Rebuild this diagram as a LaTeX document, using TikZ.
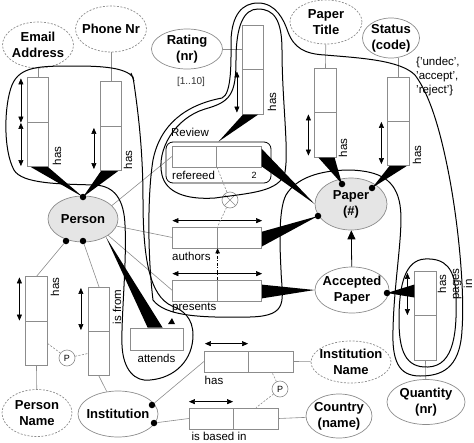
\documentclass[tikz,border=0pt]{standalone}
\usepackage{fontspec}
\setmainfont{Liberation Sans}
\usetikzlibrary{shapes.geometric,arrows.meta,calc}
\definecolor{lg}{gray}{0.55}
\definecolor{efill}{gray}{0.9}
\begin{document}
\begin{tikzpicture}[x=1pt,y=-1pt,
  ent/.style={ellipse,draw=lg,line width=0.7pt,inner sep=0pt},
  vent/.style={ent,dashed,dash pattern=on 2pt off 1.5pt},
  etext/.style={inner sep=0pt,align=center,font=\bfseries\fontsize{13}{16}\selectfont},
  lbl/.style={inner sep=0pt,font=\fontsize{11.5}{14}\selectfont},
  vrole/.style={draw=lg,line width=0.7pt,rectangle,inner sep=0pt,minimum width=21.5pt,minimum height=44.5pt},
  hrole/.style={draw=lg,line width=0.7pt,rectangle,inner sep=0pt,minimum width=44.5pt,minimum height=21pt},
  conn/.style={draw=lg,line width=0.6pt},
  dconn/.style={draw=lg,line width=0.6pt,dash pattern=on 2pt off 1.5pt},
  dot/.style={circle,fill=black,inner sep=0pt,minimum size=6.5pt},
  uq/.style={line width=0.6pt,{Triangle[length=6pt,width=5pt]}-{Triangle[length=6pt,width=5pt]}},
  pc/.style={circle,draw=lg,line width=0.6pt,minimum size=16pt,inner sep=0pt,font=\fontsize{9}{10}\selectfont},
  wedge/.style={fill=black},
  path/.style={draw=black,line width=1pt}
]
\useasboundingbox (0,0) rectangle (474,442);

% ---------- entity and value types ----------
\node[vent,minimum width=71pt,minimum height=46pt] (EA) at (38,45) {};
\node[etext] (EAt) at (EA) {Email\\Address};
\node[vent,minimum width=71pt,minimum height=46pt] (PN) at (111,29) {};
\node[etext] (PNt) at (PN) {Phone Nr};
\node[ent,minimum width=71pt,minimum height=40pt] (RT) at (187,49) {};
\node[etext] (RTt) at (RT) {Rating\\(nr)};
\node[lbl,text=black!80] (RTv) at (191,82) {\fontsize{10}{12}\selectfont[1..10]};
\node[vent,minimum width=72pt,minimum height=44pt] (PT) at (326,22) {};
\node[etext] (PTt) at (PT) {Paper\\Title};
\node[ent,minimum width=57pt,minimum height=40pt] (ST) at (391,38) {};
\node[etext] (STt) at (ST) {Status\\(code)};
\node[lbl,align=left,anchor=west] (STv) at (416,77) {\{'undec',\\'accept',\\'reject'\}};
\node[ent,fill=efill,minimum width=70pt,minimum height=46pt] (PE) at (83,219) {};
\node[etext] (PEt) at (PE) {Person};
\node[ent,fill=efill,minimum width=72pt,minimum height=52pt] (PA) at (351,204) {};
\node[etext] (PAt) at (PA) {Paper\\(\#)};
\node[ent,minimum width=74pt,minimum height=46pt] (AP) at (352,290) {};
\node[etext] (APt) at (AP) {Accepted\\Paper};
\node[vent,minimum width=70pt,minimum height=47pt] (PNm) at (37,413) {};
\node[etext] (PNmt) at (PNm) {Person\\Name};
\node[ent,minimum width=80pt,minimum height=46pt] (IN) at (118,414) {};
\node[etext] (INt) at (IN) {Institution};
\node[vent,minimum width=80pt,minimum height=42pt] (INm) at (351,362) {};
\node[etext] (INmt) at (INm) {Institution\\Name};
\node[ent,minimum width=66pt,minimum height=44pt] (CO) at (339,416) {};
\node[etext] (COt) at (CO) {Country\\(name)};
\node[ent,minimum width=78pt,minimum height=45pt] (QU) at (426,402) {};
\node[etext] (QUt) at (QU) {Quantity\\(nr)};

% ---------- role boxes ----------
\node[vrole] (e1) at (38,100) {};      \node[vrole] (e2) at (38,144.5) {};
\node[vrole] (p1) at (111,104) {};     \node[vrole] (p2) at (111,148.5) {};
\node[vrole] (r1) at (253,47.5) {};    \node[vrole] (r2) at (253,92) {};
\node[vrole] (t1) at (325.5,90.5) {};  \node[vrole] (t2) at (325.5,135) {};
\node[vrole] (s1) at (398.5,99.5) {};  \node[vrole] (s2) at (398.5,143.5) {};
\node[vrole] (g1) at (425.5,293.5) {}; \node[vrole] (g2) at (425.5,338) {};
\node[vrole] (n1) at (36.5,299) {};    \node[vrole] (n2) at (36.5,343.5) {};
\node[vrole] (f1) at (99,309.5) {};    \node[vrole] (f2) at (99,353.5) {};
\node[hrole] (v1) at (194.5,156.5) {}; \node[hrole] (v2) at (239,156.5) {};
\node[hrole] (a1) at (195,237.5) {};   \node[hrole] (a2) at (239.5,237.5) {};
\node[hrole] (q1) at (195,290.5) {};   \node[hrole] (q2) at (239.5,290.5) {};
\node[hrole] (h1) at (226.5,361.5) {}; \node[hrole] (h2) at (271,361.5) {};
\node[hrole] (b1) at (211.5,418.5) {}; \node[hrole] (b2) at (256,418.5) {};
\node[hrole,minimum width=53pt,minimum height=22pt] (at) at (156.5,339) {};
\node[draw=black,line width=0.8pt,rounded corners=7pt,minimum width=105pt,minimum height=41pt,inner sep=0pt] (RV) at (218.5,162.5) {};

% ---------- role labels ----------
\node[lbl,rotate=90] (le) at (57,156) {has};
\node[lbl,rotate=90] (lp) at (128,160) {has};
\node[lbl,rotate=90] (lr) at (272,102) {has};
\node[lbl,rotate=90] (lt) at (343,148) {has};
\node[lbl,rotate=90] (ls) at (417,155) {has};
\node[lbl,rotate=90,align=center,font=\fontsize{11.5}{13}\selectfont] (lg) at (455,284) {has\\pages\\in};
\node[lbl,rotate=90] (ln) at (55,287) {has};
\node[lbl,rotate=90] (lf) at (117,307) {is from};
\node[lbl,anchor=west] (lv) at (172,175) {refereed};
\node[inner sep=0pt,font=\fontsize{9}{10}\selectfont] (l2) at (254,175) {2};
\node[lbl] (lRV) at (190,132) {Review};
\node[lbl,anchor=west] (la) at (172,256) {authors};
\node[lbl,anchor=west] (lq) at (172,308) {presents};
\node[lbl] (lat) at (156.5,358) {attends};
\node[lbl] (lh) at (214,380) {has};
\node[lbl] (lb) at (219,436) {is based in};

% ---------- thin connectors ----------
\draw[conn] (EA) -- (e1.north);
\draw[conn] (PN) -- (p1.north);
\draw[conn] (RT.east) -- (r1.west |- RT.east);
\draw[conn] (PT) -- (t1.north);
\draw[conn] (s1.north) -- (s1.north |- ST.south);
\draw[conn] (g2.south) -- (QU);
\draw[conn] (n2.south) -- (PNm);
\draw[conn] (f2.south) -- (IN);
\draw[conn] (PE.25) -- (v1.west);
\draw[conn] (PE.-12) -- (a1.west);
\draw[conn] (PE.-33) -- (q1.west);
\draw[conn] (h2.east) -- (INm);
\draw[conn] (b2.east) -- (CO);

% ---------- mandatory dots ----------
\node[dot] (dPE1) at (83,197) {};
\node[dot] (dPE2) at (66,241) {};
\node[dot] (dPE3) at (83,241) {};
\node[dot] (dPA1) at (342,184) {};
\node[dot] (dPA2) at (372,188) {};
\node[dot] (dPA3) at (318,216) {};
\node[dot] (dAP) at (387,293) {};
\node[dot] (dIN1) at (152,405) {};
\node[dot] (dIN2) at (154,423) {};

\draw[conn] (dPE2) -- (n1.north);
\draw[conn] (dPE3) -- (f1.north);
\draw[conn] (dIN1) -- (h1.west);
\draw[conn] (dIN2) -- (b1.west);

% ---------- wedges ----------
\fill[wedge] ($(e2.south west)+(4,0)$) -- ($(e2.south east)+(-1,0)$) -- (dPE1.center) -- cycle;
\fill[wedge] ($(p2.south west)+(1,0)$) -- ($(p2.south east)+(-4,0)$) -- (dPE1.center) -- cycle;
\fill[wedge] ($(r2.south west)+(1,0)$) -- ($(r2.south east)+(-6,0)$) -- (RV.north) -- cycle;
\fill[wedge] ($(v2.north east)+(0,3)$) -- ($(v2.south east)+(0,-1)$) -- (PA.west) -- cycle;
\fill[wedge] ($(a2.north east)+(0,5)$) -- ($(a2.south east)+(0,-2)$) -- (dPA3.center) -- cycle;
\fill[wedge] ($(q2.north east)+(0,5)$) -- ($(q2.south east)+(0,-3)$) -- (AP.west) -- cycle;
\fill[wedge] ($(t2.south west)+(4,0)$) -- ($(t2.south east)+(-2,0)$) -- (dPA1.center) -- cycle;
\fill[wedge] ($(s2.south west)+(2,0)$) -- ($(s2.south east)+(-3,0)$) -- (dPA2.center) -- cycle;
\fill[wedge] (dAP.center) -- ($(g1.west)+(0,-9)$) -- ($(g1.west)+(0,4)$) -- cycle;
\fill[wedge] (PE.-38) -- ($(at.north west)+(18,0)$) -- ($(at.north west)+(33,0)$) -- cycle;

% ---------- subtype ----------
\draw[line width=0.8pt,-{Triangle[length=9pt,width=8pt]}] (AP) -- (PA);

% ---------- uniqueness constraints ----------
\draw[uq] ($(e1.north west)+(-6,1)$) -- ($(e1.south west)+(-6,0)$);
\draw[uq] ($(e2.north west)+(-6,1)$) -- ($(e2.south west)+(-6,-1)$);
\draw[uq] ($(p2.north west)+(-6,2)$) -- ($(p2.south west)+(-6,-2)$);
\draw[uq] ($(r2.north west)+(-5,2)$) -- ($(r2.south west)+(-5,-2)$);
\draw[uq] ($(t2.north west)+(-6,2)$) -- ($(t2.south west)+(-6,-2)$);
\draw[uq] ($(s2.north west)+(-6,1)$) -- ($(s2.south west)+(-6,-2)$);
\draw[uq] ($(g1.north west)+(-7,2)$) -- ($(g1.south west)+(-7,-1)$);
\draw[uq] ($(n1.north west)+(-6,1)$) -- ($(n1.south west)+(-6,-1)$);
\draw[uq] ($(f1.north west)+(-7,1)$) -- ($(f1.south west)+(-7,-2)$);
\draw[uq] ($(a1.north west)+(0,-6)$) -- ($(a2.north east)+(0,-6)$);
\draw[uq] ($(q1.north west)+(0,-6)$) -- ($(q2.north east)+(0,-6)$);
\draw[uq] ($(h1.north west)+(1,-7)$) -- ($(h1.north east)+(-1,-7)$);
\draw[uq] ($(b1.north west)+(0,-6)$) -- ($(b1.north east)+(-1,-6)$);

% ---------- external / exclusion / subset constraints ----------
\node[pc] (P1) at (67,358) {P};
\draw[dconn] (n2.east) -- (P1);
\draw[dconn] (P1) -- (f2.west);
\node[pc] (P2) at (280,389) {P};
\draw[dconn] (P2) -- ($(h2.south)+(1,0)$);
\draw[dconn] (P2) -- ($(b2.north)+(0,0)$);
\node[pc] (X) at (230,200) {};
\draw[lg,line width=0.6pt] (X.45) -- (X.225) (X.135) -- (X.315);
\draw[dconn] (v1.south east) -- (X);
\draw[dconn] (X) -- (a1.north east);
\draw[line width=0.6pt,dash pattern=on 3pt off 1.5pt on 1pt off 1.5pt,-{Triangle[length=5pt,width=4.5pt]}] (q1.north east) -- (a1.south east);

% ---------- freehand path curves ----------
% top-left loop
\draw[path] (131,73) -- (134,81);
\draw[path] (133,77) .. controls (125,68) and (105,66) .. (75,66)
  .. controls (40,66) and (20,66) .. (12,85)
  .. controls (4,105) and (3,150) .. (14,170)
  .. controls (22,184) and (60,184) .. (95,185)
  .. controls (115,186) and (124,200) .. (125,225)
  .. controls (127,260) and (121,320) .. (122,345)
  .. controls (123,370) and (135,382) .. (150,380)
  .. controls (175,378) and (193,360) .. (193,335)
  .. controls (193,318) and (183,310) .. (172,306)
  .. controls (150,296) and (143,260) .. (143,200)
  .. controls (143,150) and (138,110) .. (133,77);
% rating / review loop
\draw[path] (162,175) .. controls (156,150) and (175,118) .. (205,109)
  .. controls (230,102) and (236,95) .. (236,60)
  .. controls (236,25) and (244,9) .. (258,9)
  .. controls (274,9) and (282,20) .. (282,50)
  .. controls (282,100) and (289,150) .. (285,172)
  .. controls (280,192) and (250,193) .. (215,198)
  .. controls (185,200) and (166,192) .. (162,175);
% big loop
\draw[path] (153,300) .. controls (147,250) and (148,190) .. (153,160)
  .. controls (160,125) and (185,105) .. (222,98)
  .. controls (232,94) and (231,60) .. (231,40)
  .. controls (232,15) and (242,3) .. (258,3)
  .. controls (276,3) and (284,20) .. (288,32)
  .. controls (294,48) and (305,54) .. (325,55)
  .. controls (360,58) and (400,60) .. (415,75)
  .. controls (430,95) and (440,130) .. (448,170)
  .. controls (458,220) and (465,290) .. (462,330)
  .. controls (460,370) and (440,376) .. (420,376)
  .. controls (398,376) and (392,360) .. (393,330)
  .. controls (394,280) and (404,230) .. (400,205)
  .. controls (396,180) and (380,171) .. (350,170)
  .. controls (320,170) and (296,178) .. (286,195)
  .. controls (278,210) and (280,250) .. (281,270)
  .. controls (282,300) and (290,316) .. (250,317)
  .. controls (200,318) and (165,316) .. (153,300);
% pages loop
\draw[path] (425,259) .. controls (445,258) and (455,268) .. (456,295)
  .. controls (457,330) and (455,366) .. (428,367)
  .. controls (405,368) and (399,350) .. (399,320)
  .. controls (399,285) and (405,260) .. (425,259);
\fill (172,318) -- (168,324) -- (175,324) -- cycle;
\end{tikzpicture}
\end{document}
